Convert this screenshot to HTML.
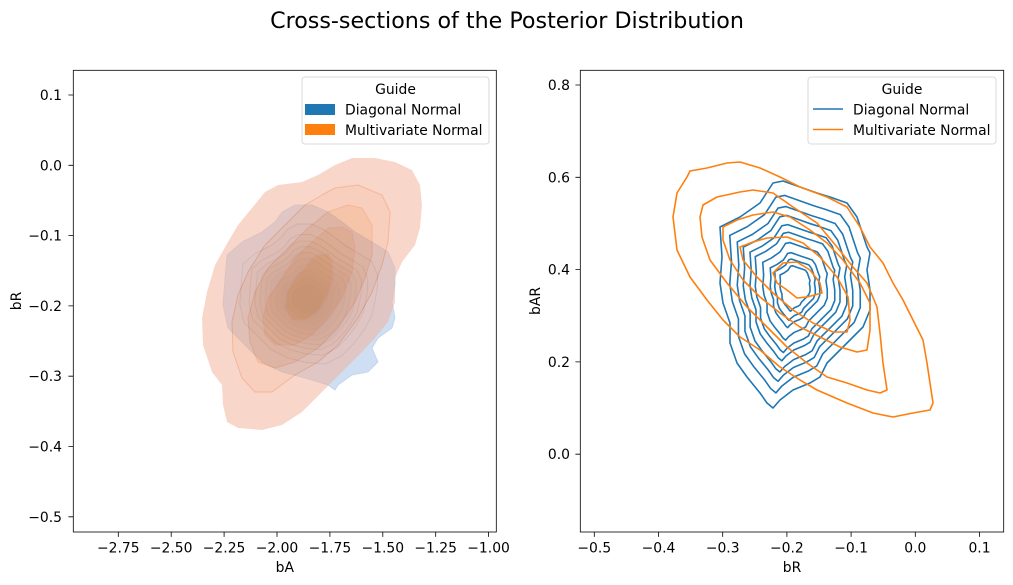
<!DOCTYPE html>
<html><head><meta charset="utf-8"><style>
html,body{margin:0;padding:0;background:#fff;}
svg{display:block;font-family:"DejaVu Sans","Liberation Sans",sans-serif;}
</style></head><body>
<svg width="1013" height="585" viewBox="0 0 1013 585" xmlns="http://www.w3.org/2000/svg">
<rect width="1013" height="585" fill="#fff"/>
<text x="507" y="28" font-size="22.2" text-anchor="middle" fill="#000">Cross-sections of the Posterior Distribution</text>

<defs>
<path id="lb" vector-effect="non-scaling-stroke" d="M282,212 L295,205 L312,205 L328,212 L342,222 L355,232 L372,242 L388,252 L395,268 L395,285 L392,302 L388,320 L378,338 L365,355 L350,370 L330,380 L305,378 L282,372 L262,362 L245,345 L228,328 L223,305 L225,278 L227,255 L242,242 L262,232 L275,222 Z"/>
<path id="rb" vector-effect="non-scaling-stroke" d="M720,227 L740,217 L760,203 L773,183 L783,181 L800,187 L817,193 L830,197 L847,203 L857,217 L867,247 L870,253 L867,270 L870,290 L870,310 L863,327 L847,343 L827,363 L820,377 L810,383 L793,390 L780,400 L773,408 L767,403 L760,393 L747,377 L737,363 L730,343 L730,323 L723,303 L720,283 L722,257 Z"/>
</defs>

<!-- LEFT PLOT -->
<g opacity="0.5">
 <path d="M282,212 L295,205 L312,205 L328,212 L342,222 L355,232 L372,242 L388,252 L395,268 L395,285 L392,302 L395,318 L392,328 L378,338 L372,348 L378,362 L368,372 L352,375 L338,385 L335,390 L328,385 L305,378 L282,372 L262,362 L245,345 L228,328 L223,305 L225,278 L227,255 L242,242 L262,232 L275,222 Z" fill="#9fc1eb" stroke="#8aa6cc" stroke-width="0.8" stroke-linejoin="round"/>
 <g fill="none" stroke="#6b86b0" stroke-width="1" stroke-linejoin="round">
  <use href="#lb" transform="translate(307,300) scale(0.8) translate(-307,-300)" fill="#98bbe6"/>
  <use href="#lb" transform="translate(307,300) scale(0.69) translate(-307,-300)" fill="#8fb4e0"/>
  <use href="#lb" transform="translate(307,300) scale(0.62) translate(-307,-300)" fill="#87acda"/>
  <use href="#lb" transform="translate(307,300) scale(0.56) translate(-307,-300)" fill="#7fa5d4"/>
  <use href="#lb" transform="translate(307,300) scale(0.5) translate(-307,-300)" fill="#779ece"/>
  <use href="#lb" transform="translate(307,300) scale(0.44) translate(-307,-300)" fill="#6f97c8"/>
  <use href="#lb" transform="translate(307,300) scale(0.37) translate(-307,-300)" fill="#6790c2"/>
  <use href="#lb" transform="translate(307,300) scale(0.31) translate(-307,-300)" fill="#5f89bc"/>
  <use href="#lb" transform="translate(307,300) scale(0.25) translate(-307,-300)" fill="#5782b6"/>
  <use href="#lb" transform="translate(307,300) scale(0.19) translate(-307,-300)" fill="#4f7bb0"/>
 </g>
</g>
<g opacity="0.5" stroke="#e8703a" stroke-width="1" stroke-linejoin="round">
 <path d="M352,158 L375,158 L395,162 L412,170 L420,185 L422,205 L420,228 L415,245 L402,262 L395,278 L395,302 L388,322 L375,338 L362,352 L342,372 L322,392 L302,412 L282,425 L262,430 L238,428 L227,422 L223,405 L222,385 L212,372 L203,345 L202,318 L207,292 L215,265 L228,242 L238,225 L252,208 L265,192 L278,185 L302,182 L318,175 L335,165 Z" fill="#f3b197" stroke="none"/>
 <path d="M335,188 L358,185 L382,195 L390,212 L388,242 L382,265 L372,292 L358,318 L338,345 L318,362 L295,375 L272,392 L255,392 L242,378 L233,352 L232,322 L238,295 L248,272 L265,245 L285,225 L305,205 L322,195 Z" fill="#f2a07c"/>
 <path d="M328,212 L348,205 L362,208 L372,225 L372,255 L365,278 L355,302 L338,328 L318,348 L295,362 L275,368 L258,362 L250,342 L248,318 L255,292 L268,268 L288,248 L308,228 Z" fill="#ee8c56"/>
 <path d="M328,228 L342,227 L352,232 L355,248 L352,272 L342,298 L328,318 L312,335 L295,345 L275,345 L265,335 L263,318 L268,298 L282,278 L295,258 L312,242 Z" fill="#ec7a34"/>
 <path d="M318,255 L328,253 L333,262 L333,278 L328,295 L318,312 L305,320 L292,320 L285,308 L287,292 L295,278 L305,268 L312,258 Z" fill="#e86c12"/>
</g>

<!-- left axes -->
<g stroke="#000" stroke-width="0.8" fill="none">
 <rect x="73.3" y="70.3" width="423" height="461.7"/>
 <path d="M118.3,532v4.9M171.2,532v4.9M224.1,532v4.9M277,532v4.9M329.9,532v4.9M382.8,532v4.9M435.7,532v4.9M488.6,532v4.9"/>
 <path d="M73.3,95h-4.9M73.3,165.3h-4.9M73.3,235.6h-4.9M73.3,305.9h-4.9M73.3,376.2h-4.9M73.3,446.5h-4.9M73.3,516.8h-4.9"/>
</g>
<g font-size="13.9" fill="#000" text-anchor="middle">
 <text x="118.3" y="552.5">−2.75</text><text x="171.2" y="552.5">−2.50</text><text x="224.1" y="552.5">−2.25</text><text x="277" y="552.5">−2.00</text><text x="329.9" y="552.5">−1.75</text><text x="382.8" y="552.5">−1.50</text><text x="435.7" y="552.5">−1.25</text><text x="488.6" y="552.5">−1.00</text>
</g>
<g font-size="13.9" fill="#000" text-anchor="end">
 <text x="62" y="100">0.1</text><text x="62" y="170.3">0.0</text><text x="62" y="240.6">−0.1</text><text x="62" y="310.9">−0.2</text><text x="62" y="381.2">−0.3</text><text x="62" y="451.5">−0.4</text><text x="62" y="521.8">−0.5</text>
</g>
<text x="284.8" y="572" font-size="13.9" text-anchor="middle">bA</text>
<text transform="translate(21,301) rotate(-90)" font-size="13.9" text-anchor="middle">bR</text>

<!-- left legend -->
<rect x="302" y="77" width="187" height="67" rx="3" fill="#fff" fill-opacity="0.8" stroke="#d0d0d0" stroke-width="0.8"/>
<text x="395.5" y="94" font-size="13.9" text-anchor="middle">Guide</text>
<rect x="305" y="104" width="30" height="11" fill="#1f77b4"/>
<rect x="305" y="124" width="30" height="11" fill="#ff7f0e"/>
<text x="345" y="114.5" font-size="13.9">Diagonal Normal</text>
<text x="345" y="135" font-size="13.9">Multivariate Normal</text>

<!-- RIGHT PLOT -->
<g fill="none" stroke="#1f77b4" stroke-width="1.6" stroke-linejoin="round">
 <use href="#rb"/>
 <use href="#rb" transform="translate(795,292) scale(0.87) translate(-795,-292)"/>
 <use href="#rb" transform="translate(795,292) scale(0.77) translate(-795,-292)"/>
 <use href="#rb" transform="translate(795,292) scale(0.69) translate(-795,-292)"/>
 <use href="#rb" transform="translate(795,290) scale(0.6) translate(-795,-290)"/>
 <use href="#rb" transform="translate(795,290) scale(0.53) translate(-795,-290)"/>
 <use href="#rb" transform="translate(795,289) scale(0.43) translate(-795,-289)"/>
 <use href="#rb" transform="translate(795,288) scale(0.33) translate(-795,-288)"/>
 <use href="#rb" transform="translate(795,288) scale(0.27) translate(-795,-288)"/>
 <use href="#rb" transform="translate(795,287) scale(0.2) translate(-795,-287)"/>
</g>
<g fill="none" stroke="#ff7f0e" stroke-width="1.6" stroke-linejoin="round">
 <path d="M690,171 L707,168 L727,163 L740,162 L760,168 L780,177 L800,187 L827,197 L847,207 L860,227 L870,247 L883,263 L893,283 L903,300 L913,320 L923,340 L927,363 L930,383 L933,403 L930,410 L913,413 L893,417 L873,413 L847,403 L817,390 L800,380 L780,367 L760,350 L740,337 L723,320 L707,300 L690,277 L677,250 L673,217 L677,193 L687,177 Z"/>
 <path d="M703,205 L717,197 L740,192 L753,190 L773,193 L793,207 L817,223 L837,247 L853,267 L867,283 L877,307 L880,333 L883,363 L887,390 L880,393 L867,390 L847,383 L827,377 L807,363 L787,347 L767,327 L747,307 L727,283 L710,260 L702,237 L700,217 Z"/>
 <path d="M723,227 L737,220 L753,215 L773,212 L790,217 L810,230 L827,243 L843,260 L860,283 L870,303 L870,330 L867,350 L857,352 L840,347 L820,337 L800,327 L780,313 L760,297 L743,280 L730,260 L723,240 Z"/>
 <path d="M740,247 L753,242 L767,238 L787,237 L803,243 L820,257 L837,277 L848,297 L850,320 L847,332 L833,332 L813,323 L793,310 L773,293 L757,277 L743,260 Z"/>
 <path d="M773,273 L783,263 L797,262 L810,270 L820,283 L822,293 L807,297 L797,298 L787,290 L777,283 Z"/>
</g>

<!-- right axes -->
<g stroke="#000" stroke-width="0.8" fill="none">
 <rect x="580.3" y="70.3" width="423.4" height="461.7"/>
 <path d="M594.3,532v4.9M658.5,532v4.9M722.7,532v4.9M786.9,532v4.9M851.1,532v4.9M915.3,532v4.9M979.5,532v4.9"/>
 <path d="M580.3,85h-4.9M580.3,177.3h-4.9M580.3,269.6h-4.9M580.3,361.9h-4.9M580.3,454.2h-4.9"/>
</g>
<g font-size="13.9" fill="#000" text-anchor="middle">
 <text x="594.3" y="552.5">−0.5</text><text x="658.5" y="552.5">−0.4</text><text x="722.7" y="552.5">−0.3</text><text x="786.9" y="552.5">−0.2</text><text x="851.1" y="552.5">−0.1</text><text x="915.3" y="552.5">0.0</text><text x="979.5" y="552.5">0.1</text>
</g>
<g font-size="13.9" fill="#000" text-anchor="end">
 <text x="570" y="90">0.8</text><text x="570" y="182.3">0.6</text><text x="570" y="274.6">0.4</text><text x="570" y="366.9">0.2</text><text x="570" y="459.2">0.0</text>
</g>
<text x="792" y="572" font-size="13.9" text-anchor="middle">bR</text>
<text transform="translate(540,301) rotate(-90)" font-size="13.9" text-anchor="middle">bAR</text>

<!-- right legend -->
<rect x="808" y="77" width="188" height="67" rx="3" fill="#fff" fill-opacity="0.8" stroke="#d0d0d0" stroke-width="0.8"/>
<text x="902" y="94" font-size="13.9" text-anchor="middle">Guide</text>
<line x1="813" y1="109" x2="843" y2="109" stroke="#1f77b4" stroke-width="1.5"/>
<line x1="813" y1="129.5" x2="843" y2="129.5" stroke="#ff7f0e" stroke-width="1.5"/>
<text x="853" y="114.5" font-size="13.9">Diagonal Normal</text>
<text x="853" y="135" font-size="13.9">Multivariate Normal</text>
</svg>
</body></html>
